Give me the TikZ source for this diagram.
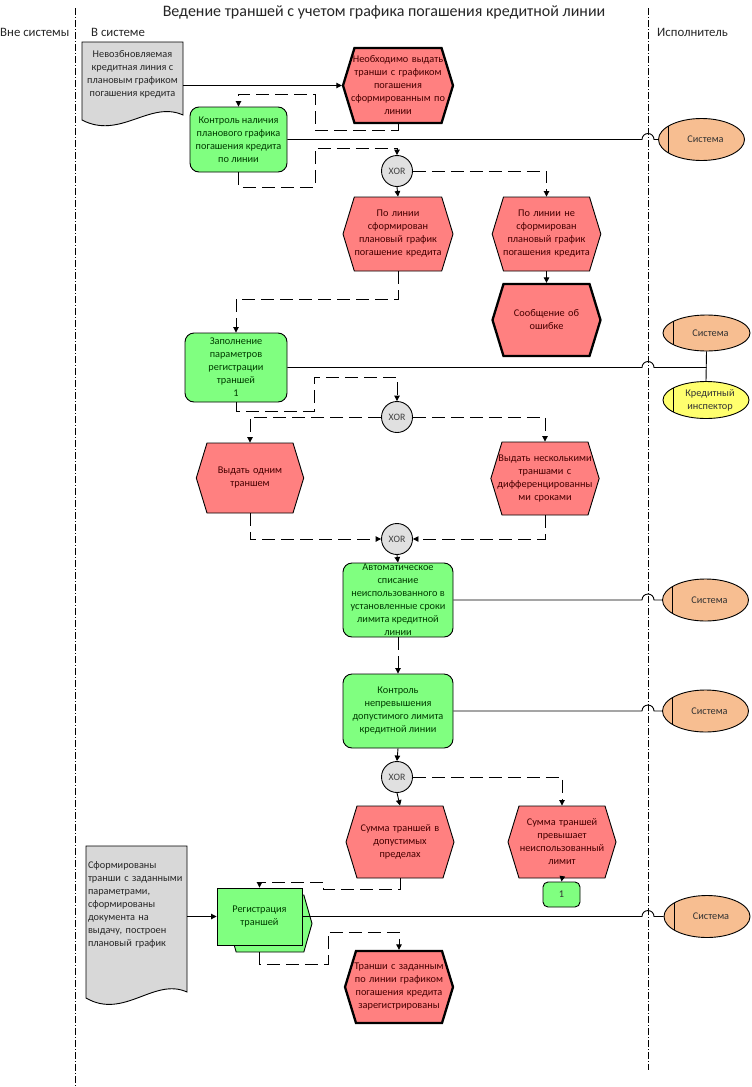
\documentclass[tikz,border=0pt]{standalone}
\usepackage{fontspec}
\setmainfont{Carlito}
\usetikzlibrary{positioning}
\usetikzlibrary{shapes.geometric}
\usetikzlibrary{shapes.symbols}
\usetikzlibrary{arrows.meta}
\definecolor{eventColor}{RGB}{255,128,128}
\definecolor{eventText}{RGB}{70,0,0}
\definecolor{functionColor}{RGB}{128,255,128}
\definecolor{functionText}{RGB}{0,60,0}
\definecolor{xorColor}{RGB}{224,224,224}
\definecolor{docColor}{RGB}{216,216,216}
\definecolor{systemColor}{RGB}{247,190,145}
\definecolor{inspectorColor}{RGB}{255,255,110}
\newcommand{\shapeFont}{\fontsize{10.3}{13}\selectfont}
\newcommand{\titleFont}{\fontsize{16}{18}\selectfont}
\newcommand{\laneFont}{\fontsize{12.8}{15}\selectfont}

\begin{document}
\begin{tikzpicture}[x=1pt,y=-1pt]

  \tikzstyle{eventNode} = [signal, signal to=east and west, signal pointer angle=146, draw, line width=0.9pt, fill=eventColor, text=eventText, align=center, font=\shapeFont, text width=98pt, inner xsep=-6pt, inner ysep=0pt];
  \tikzstyle{finalEvent} = [eventNode, line width=2.3pt];
  \tikzstyle{functionNode} = [rectangle, rounded corners=9pt, draw, line width=0.9pt, fill=functionColor, text=functionText, align=center, font=\shapeFont, inner sep=0pt];
  \tikzstyle{xorNode} = [circle, draw, line width=0.9pt, fill=xorColor, minimum size=31pt, inner sep=0pt, text=black!75, font=\fontsize{9.8}{11}\selectfont];
  \tikzstyle{roleNode} = [ellipse, draw, line width=0.9pt, minimum width=86pt, minimum height=42pt, inner sep=0pt, align=center, font=\shapeFont, text=black!80, fill=systemColor, path picture={\draw[line width=0.9pt] ([xshift=10pt]path picture bounding box.north west) -- ([xshift=10pt]path picture bounding box.south west);}];
  \tikzstyle{docNode} = [align=center, font=\shapeFont, text=black!85, inner sep=0pt, minimum width=101pt];
  \tikzstyle{flowEdge} = [line width=0.9pt, dash pattern=on 13pt off 6pt, -{Triangle[length=5.5pt,width=5.5pt]}];
  \tikzstyle{arrowEdge} = [line width=0.9pt, -{Triangle[length=5.5pt,width=5.5pt]}];
  \tikzstyle{roleEdge} = [line width=0.9pt];
  \tikzstyle{laneLine} = [line width=0.8pt, dash pattern=on 7pt off 2pt on 1pt off 2pt];
  \tikzstyle{laneLabel} = [anchor=west, inner sep=0pt, font=\laneFont, text=black!85];

  \useasboundingbox (0,0) rectangle (752,1087);

  % lanes
  \draw[laneLine] (75,8) -- (75,1087);
  \draw[laneLine] (648,8) -- (648,1070);

  \node[font=\titleFont, text=black!85] (title) at (384,12) {Ведение траншей с учетом графика погашения кредитной линии};
  \node[laneLabel] (outside) at (0,32) {Вне системы};
  \node[laneLabel] (inside) at (91,32) {В системе};
  \node[laneLabel] (performer) at (657,32) {Исполнитель};

  % documents
  \draw[line width=0.9pt, fill=docColor] (82,42) -- (183,42) -- (183,115) .. controls (150,100) and (120,140) .. (82,120) -- cycle;
  \draw[line width=0.9pt, fill=docColor] (86,846) -- (187,846) -- (187,992) .. controls (154,977) and (124,1020) .. (86,998) -- cycle;

  \node[docNode] (doc1) at (132.5,74) {Невозбновляемая\\кредитная линия с\\плановым графиком\\погашения кредита};
  \node[docNode, align=left, text width=97pt] (doc2) at (136.5,905) {Сформированы\\транши с заданными\\параметрами,\\сформированы\\документа на\\выдачу, построен\\плановый график};

  % events
  \node[finalEvent, minimum width=110pt, minimum height=75pt] (ev1) at (398,85.5) {Необходимо выдать\\транши с графиком\\погашения\\сформированным по\\линии};
  \node[eventNode, minimum width=110pt, minimum height=74pt] (ev2) at (398,234) {По линии\\сформирован\\плановый график\\погашение кредита};
  \node[eventNode, minimum width=107pt, minimum height=74pt] (ev3) at (546.5,234) {По линии не\\сформирован\\плановый график\\погашения кредита};
  \node[finalEvent, minimum width=107pt, minimum height=72pt] (msg) at (546.5,320) {Сообщение об\\ошибке};
  \node[eventNode, minimum width=105pt, minimum height=70pt] (ev4) at (250,478) {Выдать одним\\траншем};
  \node[eventNode, minimum width=108pt, minimum height=73pt] (ev5) at (545,478.5) {Выдать несколькими\\траншами с\\дифференцированны\\ми сроками};
  \node[eventNode, minimum width=106pt, minimum height=72pt] (ev6) at (400,842) {Сумма траншей в\\допустимых\\пределах};
  \node[eventNode, minimum width=108pt, minimum height=72pt] (ev7) at (562,842) {Сумма траншей\\превышает\\неиспользованный\\лимит};
  \node[finalEvent, minimum width=107pt, minimum height=72pt] (ev8) at (399,987) {Транши с заданным\\по линии графиком\\погашения кредита\\зарегистрированы};

  % functions
  \node[functionNode, minimum width=97pt, minimum height=65pt] (ctrl1) at (238.5,139.5) {Контроль наличия\\планового графика\\погашения кредита\\по линии};
  \node[functionNode, minimum width=102pt, minimum height=69pt] (fill1) at (236,367.5) {Заполнение\\параметров\\регистрации\\траншей\\1};
  \node[functionNode, minimum width=110pt, minimum height=74pt] (auto) at (398,600) {Автоматическое\\списание\\неиспользованного в\\установленные сроки\\лимита кредитной\\линии};
  \node[functionNode, minimum width=110pt, minimum height=74pt] (lim) at (398,711) {Контроль\\непревышения\\допустимого лимита\\кредитной линии};
  \node[functionNode, rounded corners=5pt, minimum width=37pt, minimum height=25pt, text=black!80] (one) at (561.5,894.5) {1};
  \node[eventNode, fill=functionColor, signal pointer angle=148, minimum width=84pt, minimum height=57pt, text width=60pt] (regback) at (270,923.5) {};
  \node[functionNode, sharp corners, minimum width=85pt, minimum height=57pt] (reg) at (259.5,916.5) {Регистрация\\траншей};

  % connectors
  \node[xorNode] (x1) at (397,171) {XOR};
  \node[xorNode] (x2) at (397,417) {XOR};
  \node[xorNode] (x3) at (397,539) {XOR};
  \node[xorNode] (x4) at (397,777) {XOR};

  % roles
  \node[roleNode] (sys1) at (701.5,139.5) {\hspace{8pt}Система};
  \node[roleNode, minimum width=87pt, minimum height=36pt] (sys2) at (706.5,333) {\hspace{8pt}Система};
  \node[roleNode, fill=inspectorColor, minimum height=37pt] (insp) at (706,400) {\hspace{8pt}Кредитный\\\hspace{8pt}инспектор};
  \node[roleNode] (sys3) at (705.5,600) {\hspace{8pt}Система};
  \node[roleNode] (sys4) at (705.5,711) {\hspace{8pt}Система};
  \node[roleNode] (sys5) at (707,916.5) {\hspace{8pt}Система};
  \coordinate (jn) at (706.5,367.5);

  % control flow
  \draw[arrowEdge] (doc1.east |- ev1.west) -- (ev1.west);
  \draw[flowEdge] (ev1.south) |- (315,130) |- (ctrl1.north |- 0,94) -- (ctrl1.north);
  \draw[flowEdge] (ctrl1.south) |- (315,187) |- (x1.north |- 0,148) -- (x1.north);
  \draw[flowEdge] (x1.south) -- (ev2.north);
  \draw[flowEdge] (x1.east) -| (ev3.north);
  \draw[arrowEdge] (ev3.south) -- (msg.north);
  \draw[flowEdge] (ev2.south) |- (fill1.north |- 0,299) -- (fill1.north);
  \draw[flowEdge] (fill1.south) |- (314,411) |- (x2.north |- 0,377) -- (x2.north);
  \draw[flowEdge] (x2.west) -| (ev4.north);
  \draw[flowEdge] (x2.east) -| (ev5.north);
  \draw[flowEdge] (ev4.south) |- (x3.west);
  \draw[flowEdge] (ev5.south) |- (x3.east);
  \draw[arrowEdge] (x3.south) -- (auto.north);
  \draw[flowEdge] (auto.south) -- (lim.north);
  \draw[arrowEdge] (lim.south) -- (x4.north);
  \draw[arrowEdge] (x4.south) -- (ev6.north);
  \draw[flowEdge] (x4.east) -| (ev7.north);
  \draw[arrowEdge] (ev7.south) -- (one.north);
  \draw[flowEdge] (ev6.south) |- (323,889) |- (reg.north |- 0,882) -- (reg.north);
  \draw[arrowEdge] (doc2.east |- reg.west) -- (reg.west);
  \draw[flowEdge] (reg.south |- regback.south) |- (328,964) |- (ev8.north |- 0,932) -- (ev8.north);

  % role links
  \draw[roleEdge] (ctrl1.east) -- (642,139.5) arc[start angle=180, end angle=0, radius=6pt] -- (sys1.west);
  \draw[roleEdge] (fill1.east) -- (642,367.5) arc[start angle=180, end angle=0, radius=6pt] -- (jn);
  \draw[roleEdge] (sys2.south) -- (insp.north);
  \draw[roleEdge] (auto.east) -- (642,600) arc[start angle=180, end angle=0, radius=6pt] -- (sys3.west);
  \draw[roleEdge] (lim.east) -- (642,711) arc[start angle=180, end angle=0, radius=6pt] -- (sys4.west);
  \draw[roleEdge] (reg.east) -- (642,916.5) arc[start angle=180, end angle=0, radius=6pt] -- (sys5.west);

\end{tikzpicture}
\end{document}
